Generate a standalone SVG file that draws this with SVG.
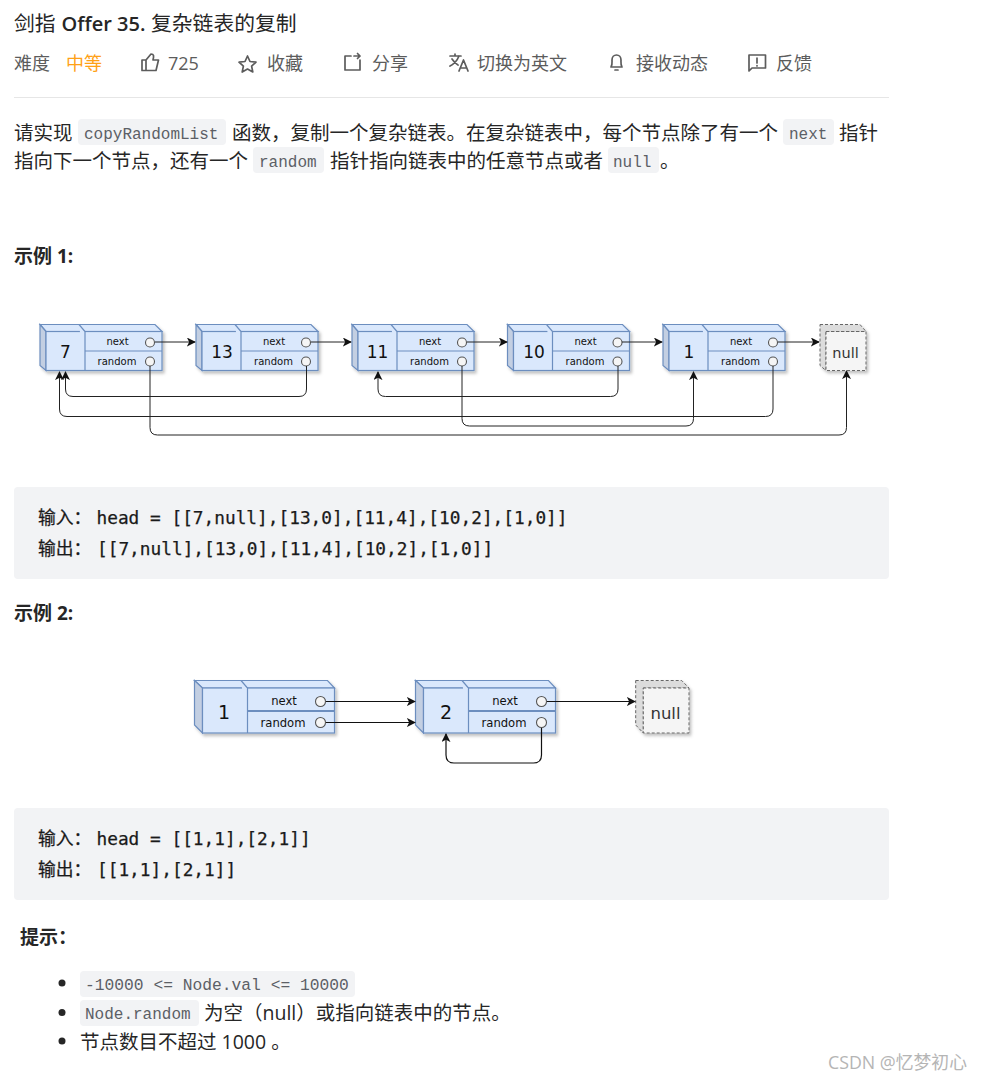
<svg xmlns="http://www.w3.org/2000/svg" width="981" height="1081" viewBox="0 0 981 1081">
<style>
text{font-family:"Open Sans","Noto Sans CJK SC",sans-serif;fill:#262626}
.b{font-size:19.5px}
.m{font-size:18px;fill:#5c5c5c}
.h{font-size:19px;font-weight:700}
.c{font-family:"Liberation Mono","Noto Sans CJK SC",monospace;font-size:16px;fill:#5c5f66}
.p{font-family:"DejaVu Sans Mono","Noto Sans CJK SC",monospace;font-size:17.8px;fill:#1a1a1a;stroke:#1a1a1a;stroke-width:0.25}
.box{fill:#f2f3f5}
.f{font-family:"DejaVu Sans","Noto Sans",sans-serif;fill:#111;text-anchor:middle}
.s{font-size:10px}
.v{font-size:17px}
.s2{font-size:11.6px}
.v2{font-size:19px}
.nl{font-size:14.5px;fill:#333}
.nl2{font-size:16.5px;fill:#333}
.ic{fill:none;stroke:#5c5c5c;stroke-width:1.7;stroke-linejoin:round;stroke-linecap:round}
.cn{fill:none;stroke:#222;stroke-width:1;stroke-linejoin:round}
.cn2{fill:none;stroke:#111;stroke-width:1.2}
.front{fill:#dae8fc;stroke:#6c8ebf;stroke-width:1.2}
.side{fill:#c3cfe2;stroke:#6c8ebf;stroke-width:1.2}
.top{fill:#dae8fc;stroke:#6c8ebf;stroke-width:1.2}
.rule{fill:none;stroke:#6c8ebf;stroke-width:2}
.dot{fill:#f5f5f5;stroke:#555;stroke-width:1.1}
.gf{fill:#f5f5f5;stroke:#666;stroke-width:1;stroke-dasharray:3 2}
.gs{fill:#dcdcdc;stroke:#666;stroke-width:1;stroke-dasharray:3 2}
</style>
<defs>
<filter id="sh" x="-10%" y="-10%" width="125%" height="130%"><feDropShadow dx="2" dy="2.5" stdDeviation="1.5" flood-color="#000" flood-opacity="0.25"/></filter>
<marker id="ar" viewBox="0 0 10 10" refX="9" refY="5" markerWidth="9" markerHeight="9" markerUnits="userSpaceOnUse" orient="auto"><path d="M0 0L10 5L0 10L2.5 5Z" fill="#111"/></marker>
<g id="n1" filter="url(#sh)">
<path class="top" d="M0 0H115L122 7H6Z"/>
<path class="side" d="M0 0L6 7V46L0 41Z"/>
<rect class="front" x="6" y="7" width="116" height="39"/>
<path class="front" d="M39 0L45 7V46M45 26.500H122"/>
<circle class="dot" cx="110" cy="18" r="4.500"/>
<circle class="dot" cx="110" cy="37" r="4.500"/>
</g>
<g id="n2" filter="url(#sh)">
<path class="top" d="M0 0H133L140 7.500H8Z"/>
<path class="side" d="M0 0L8 7.500V52.500L0 44.500Z"/>
<rect class="front" x="8" y="7.500" width="132" height="45"/>
<path class="front" d="M46.500 0L53 7.500V52.500"/>
<path class="rule" d="M53 30.500H140"/>
<circle class="dot" cx="126" cy="21" r="5"/>
<circle class="dot" cx="126" cy="42" r="5"/>
</g>
<g id="g1" filter="url(#sh)">
<path class="gs" d="M0 0H40L46 7H6V46L0 41Z"/>
<rect class="gf" x="6" y="7" width="40" height="39"/>
</g>
<g id="g2" filter="url(#sh)">
<path class="gs" d="M0 0H46L53.300 7.500H7.600V52.500L0 44.500Z"/>
<rect class="gf" x="7.600" y="7.500" width="45.700" height="45"/>
</g>
</defs>
<rect width="981" height="1081" fill="#fff"/>

<text x="14" y="31" style="font-size:20.800px" fill="#262626">剑指<tspan x="61.500" style="font-size:20px;font-weight:600">Offer 35.</tspan><tspan x="151">复杂链表的复制</tspan></text>

<g id="meta">
<text class="m" x="14" y="70">难度</text>
<text class="m" x="66" y="70" style="fill:#ffa116">中等</text>
<path class="ic" d="M142 70.500V60H146V70.500ZM146 60L151 54C154 54 154 56 153 60H158.500L156 70.500H146"/>
<text class="m" x="168" y="70">725</text>
<path class="ic" d="M247.500 56L250 61.500L256 62.200L251.600 66.200L252.800 72L247.500 69L242.200 72L243.400 66.200L239 62.200L245 61.500Z"/>
<text class="m" x="267" y="70">收藏</text>
<path class="ic" d="M351 56H345V70H360V60M354 56H360M357.500 53.500L360 56L357.500 58.500"/>
<text class="m" x="372" y="70">分享</text>
<path class="ic" d="M450 56H461M455 54V56M459 56C457 61 454 64 450 66M452 59C454 62 456 64 458 65M459 71L463.500 60L468 71M460.500 68H466.500"/>
<text class="m" x="477" y="70">切换为英文</text>
<path class="ic" d="M611 67C612.500 65 612 62 612 60C612 57 614 55 616.500 55C619 55 621 57 621 60C621 62 620.500 65 622 67ZM615 70H618"/>
<text class="m" x="636" y="70">接收动态</text>
<path class="ic" d="M749 71V55H765.500V68H752ZM757 58V63M757 65.500V66"/>
<text class="m" x="776" y="70">反馈</text>
</g>
<rect x="14" y="97" width="875" height="1" fill="#e6e6e6"/>

<g id="intro">
<rect class="box" x="78" y="119" width="148" height="26" rx="4"/>
<rect class="box" x="783" y="119" width="51" height="26" rx="4"/>
<rect class="box" x="253" y="147" width="71" height="26" rx="4"/>
<rect class="box" x="608" y="147" width="51" height="26" rx="4"/>
<text class="b" x="14" y="140">请实现</text>
<text class="c" x="84" y="138.500">copyRandomList</text>
<text class="b" x="232" y="140">函数，复制一个复杂链表。在复杂链表中，每个节点除了有一个</text>
<text class="c" x="789" y="138.500">next</text>
<text class="b" x="839" y="140">指针</text>
<text class="b" x="14" y="168">指向下一个节点，还有一个</text>
<text class="c" x="259" y="166.500">random</text>
<text class="b" x="330" y="168">指针指向链表中的任意节点或者</text>
<text class="c" x="613" y="166.500">null</text>
<text class="b" x="660" y="168">。</text>
</g>

<text class="h" x="14" y="263">示例 1:</text>

<g id="node-7"><use href="#n1" x="40" y="324.500"/><text class="f v" x="65.500" y="358">7</text><text class="f s" x="117.500" y="345">next</text><text class="f s" x="117" y="365">random</text></g>
<g id="node-13"><use href="#n1" x="196" y="324.500"/><text class="f v" x="222" y="358">13</text><text class="f s" x="274" y="345">next</text><text class="f s" x="273.500" y="365">random</text></g>
<g id="node-11"><use href="#n1" x="352" y="324.500"/><text class="f v" x="377.500" y="358">11</text><text class="f s" x="430" y="345">next</text><text class="f s" x="429.500" y="365">random</text></g>
<g id="node-10"><use href="#n1" x="507.500" y="324.500"/><text class="f v" x="534" y="358">10</text><text class="f s" x="585.500" y="345">next</text><text class="f s" x="585" y="365">random</text></g>
<g id="node-1"><use href="#n1" x="663" y="324.500"/><text class="f v" x="689" y="358">1</text><text class="f s" x="741" y="345">next</text><text class="f s" x="740.500" y="365">random</text></g>
<g id="node-null"><use href="#g1" x="820" y="324.500"/><text class="f nl" x="845.500" y="357.500">null</text></g>

<g id="connectors-1">
<path class="cn" marker-end="url(#ar)" d="M155 342H195"/>
<path class="cn" marker-end="url(#ar)" d="M311 342H351"/>
<path class="cn" marker-end="url(#ar)" d="M467 342H507"/>
<path class="cn" marker-end="url(#ar)" d="M622 342H662"/>
<path class="cn" marker-end="url(#ar)" d="M778 342H819"/>
<path class="cn" marker-end="url(#ar)" d="M306.500 366V389Q306.500 396.500 299 396.500H73Q65.500 396.500 65.500 389V372"/>
<path class="cn" marker-end="url(#ar)" d="M773 366V409Q773 416.500 765.500 416.500H67Q59.500 416.500 59.500 409V372"/>
<path class="cn" marker-end="url(#ar)" d="M150 366V427.500Q150 435 157.500 435H839Q846.500 435 846.500 427.500V371"/>
<path class="cn" marker-end="url(#ar)" d="M618 366V389Q618 396.500 610.500 396.500H385.500Q378 396.500 378 389V372"/>
<path class="cn" marker-end="url(#ar)" d="M462 366V418.500Q462 426 469.500 426H686Q693.500 426 693.500 418.500V372"/>
</g>

<g id="output-1">
<rect class="box" x="14" y="487" width="875" height="92" rx="4"/>
<text class="p" x="38" y="524">输入：<tspan x="96.500">head = [[7,null],[13,0],[11,4],[10,2],[1,0]]</tspan></text>
<text class="p" x="38" y="555">输出：<tspan x="97">[[7,null],[13,0],[11,4],[10,2],[1,0]]</tspan></text>
</g>

<text class="h" x="14" y="620">示例 2:</text>

<g id="node-a"><use href="#n2" x="194.500" y="680.500"/><text class="f v2" x="224" y="719">1</text><text class="f s2" x="284" y="705">next</text><text class="f s2" x="283" y="727">random</text></g>
<g id="node-b"><use href="#n2" x="415.500" y="680.500"/><text class="f v2" x="446" y="719">2</text><text class="f s2" x="505" y="705">next</text><text class="f s2" x="504" y="727">random</text></g>
<g id="node-null2"><use href="#g2" x="635.700" y="680.500"/><text class="f nl2" x="665.500" y="718.500">null</text></g>

<g id="connectors-2">
<path class="cn2" marker-end="url(#ar)" d="M326 701.500H415"/>
<path class="cn2" marker-end="url(#ar)" d="M326 722.500H415"/>
<path class="cn2" marker-end="url(#ar)" d="M547 701.500H635"/>
<path class="cn2" marker-end="url(#ar)" d="M541.500 728V755Q541.500 763 533.500 763H454Q446 763 446 755V734"/>
</g>

<g id="output-2">
<rect class="box" x="14" y="808" width="875" height="92" rx="4"/>
<text class="p" x="38" y="845">输入：<tspan x="96.500">head = [[1,1],[2,1]]</tspan></text>
<text class="p" x="38" y="876">输出：<tspan x="97">[[1,1],[2,1]]</tspan></text>
</g>

<text class="h" x="20" y="944">提示：</text>

<g id="hints">
<circle cx="62" cy="983" r="3.500" fill="#262626"/>
<circle cx="62" cy="1012.500" r="3.500" fill="#262626"/>
<circle cx="62" cy="1041" r="3.500" fill="#262626"/>
<rect class="box" x="80" y="971" width="275" height="26" rx="4"/>
<rect class="box" x="80" y="1000" width="119" height="26" rx="4"/>
<text class="c" x="85" y="990" style="font-size:16.300px">-10000 &lt;= Node.val &lt;= 10000</text>
<text class="c" x="85" y="1019">Node.random</text>
<text class="b" x="204" y="1020">为空（null）或指向链表中的节点。</text>
<text class="b" x="80" y="1049">节点数目不超过 1000 。</text>
</g>

<text x="828" y="1069" style="font-size:17.800px;fill:#b5b5b5">CSDN @忆梦初心</text>
</svg>
